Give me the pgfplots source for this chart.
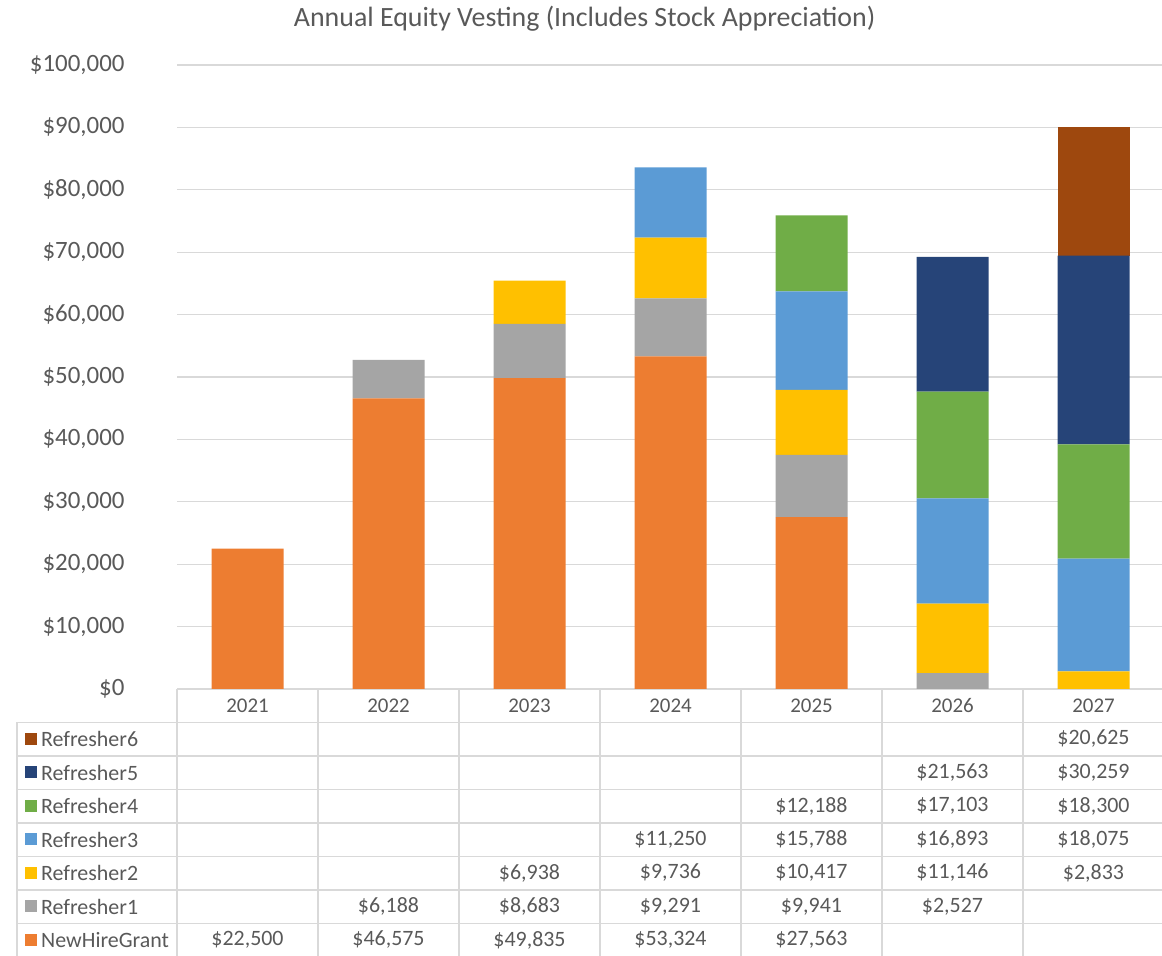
\documentclass[border=0pt]{standalone}
\usepackage{pgfplots}
\pgfplotsset{compat=1.18}
\usepackage{fontspec}
\setmainfont{Carlito}
\definecolor{cNH}{HTML}{ED7D31}
\definecolor{cR1}{HTML}{A5A5A5}
\definecolor{cR2}{HTML}{FFC000}
\definecolor{cR3}{HTML}{5B9BD5}
\definecolor{cR4}{HTML}{70AD47}
\definecolor{cR5}{HTML}{264478}
\definecolor{cR6}{HTML}{9E480E}
\definecolor{txt}{HTML}{595959}
\definecolor{grd}{HTML}{D9D9D9}
\begin{document}
\begin{tikzpicture}
\useasboundingbox (0bp,0bp) rectangle (1162bp,956bp);
\begin{axis}[at={(177bp,267bp)}, anchor=south west, scale only axis,
  width=987bp, height=624bp,
  ymin=0, ymax=100000, xmin=-0.5, xmax=6.5,
  ybar stacked, bar width=72bp,
  axis line style={draw=none},
  xtick=\empty, ytick={0,10000,...,100000},
  ymajorgrids, grid style={color=grd, line width=1.2bp},
  major tick length=0pt, scaled y ticks=false,
  yticklabel={\$\pgfmathprintnumber{\tick}},
  /pgf/number format/.cd, fixed, 1000 sep={,}, assume math mode=true, /pgfplots/.cd,
  yticklabel style={anchor=east, xshift=-49bp, font=\fontsize{25}{28}\selectfont, text=txt},
  title={Annual Equity Vesting (Includes Stock Appreciation)},
  title style={font=\fontsize{28}{30}\selectfont, text=txt, at={(0.413,1)}, anchor=center, yshift=40bp},
  clip=false]
\addplot[fill=cNH, draw=none] coordinates {(0,22500) (1,46575) (2,49835) (3,53324) (4,27563) (5,0) (6,0)};
\addplot[fill=cR1, draw=none] coordinates {(0,0) (1,6188) (2,8683) (3,9291) (4,9941) (5,2527) (6,0)};
\addplot[fill=cR2, draw=none] coordinates {(0,0) (1,0) (2,6938) (3,9736) (4,10417) (5,11146) (6,2833)};
\addplot[fill=cR3, draw=none] coordinates {(0,0) (1,0) (2,0) (3,11250) (4,15788) (5,16893) (6,18075)};
\addplot[fill=cR4, draw=none] coordinates {(0,0) (1,0) (2,0) (3,0) (4,12188) (5,17103) (6,18300)};
\addplot[fill=cR5, draw=none] coordinates {(0,0) (1,0) (2,0) (3,0) (4,0) (5,21563) (6,30259)};
\addplot[fill=cR6, draw=none] coordinates {(0,0) (1,0) (2,0) (3,0) (4,0) (5,0) (6,20625)};
\end{axis}
% data table
\begin{scope}[x=1bp, y=1bp]
\foreach \v in {722.5,756,789.5,823,856.5,890,923.5}
  \draw[grd, line width=1.5bp] (17,956-\v) -- (1162,956-\v);
\draw[grd, line width=1.5bp] (17,956-722.5) -- (17,0);
\foreach \x in {177,318,459,600,741,882,1023}
  \draw[grd, line width=1.5bp] (\x,956-689) -- (\x,0);
\foreach \y [count=\i from 0] in {2021,2022,2023,2024,2025,2026,2027}
  \node[text=txt, font=\fontsize{21}{24}\selectfont] at (247.5+141*\i, 956-705.5) {\y};
\foreach \n/\c [count=\r from 0] in {Refresher6/cR6,Refresher5/cR5,Refresher4/cR4,Refresher3/cR3,Refresher2/cR2,Refresher1/cR1,NewHireGrant/cNH}{
  \fill[\c] (25,956-739-33.5*\r-6) rectangle ++(12,12);
  \node[anchor=west, inner sep=0pt, text=txt, font=\fontsize{22}{24}\selectfont] at (41,956-739-33.5*\r) {\n};
}
\newcommand\cell[3]{\node[text=txt, font=\fontsize{22}{24}\selectfont] at (247.5+141*#1, 956-739-33.5*#2) {\$#3};}
\cell{6}{0}{20,625}
\cell{5}{1}{21,563}\cell{6}{1}{30,259}
\cell{4}{2}{12,188}\cell{5}{2}{17,103}\cell{6}{2}{18,300}
\cell{3}{3}{11,250}\cell{4}{3}{15,788}\cell{5}{3}{16,893}\cell{6}{3}{18,075}
\cell{2}{4}{6,938}\cell{3}{4}{9,736}\cell{4}{4}{10,417}\cell{5}{4}{11,146}\cell{6}{4}{2,833}
\cell{1}{5}{6,188}\cell{2}{5}{8,683}\cell{3}{5}{9,291}\cell{4}{5}{9,941}\cell{5}{5}{2,527}
\cell{0}{6}{22,500}\cell{1}{6}{46,575}\cell{2}{6}{49,835}\cell{3}{6}{53,324}\cell{4}{6}{27,563}
\end{scope}
\end{tikzpicture}
\end{document}
